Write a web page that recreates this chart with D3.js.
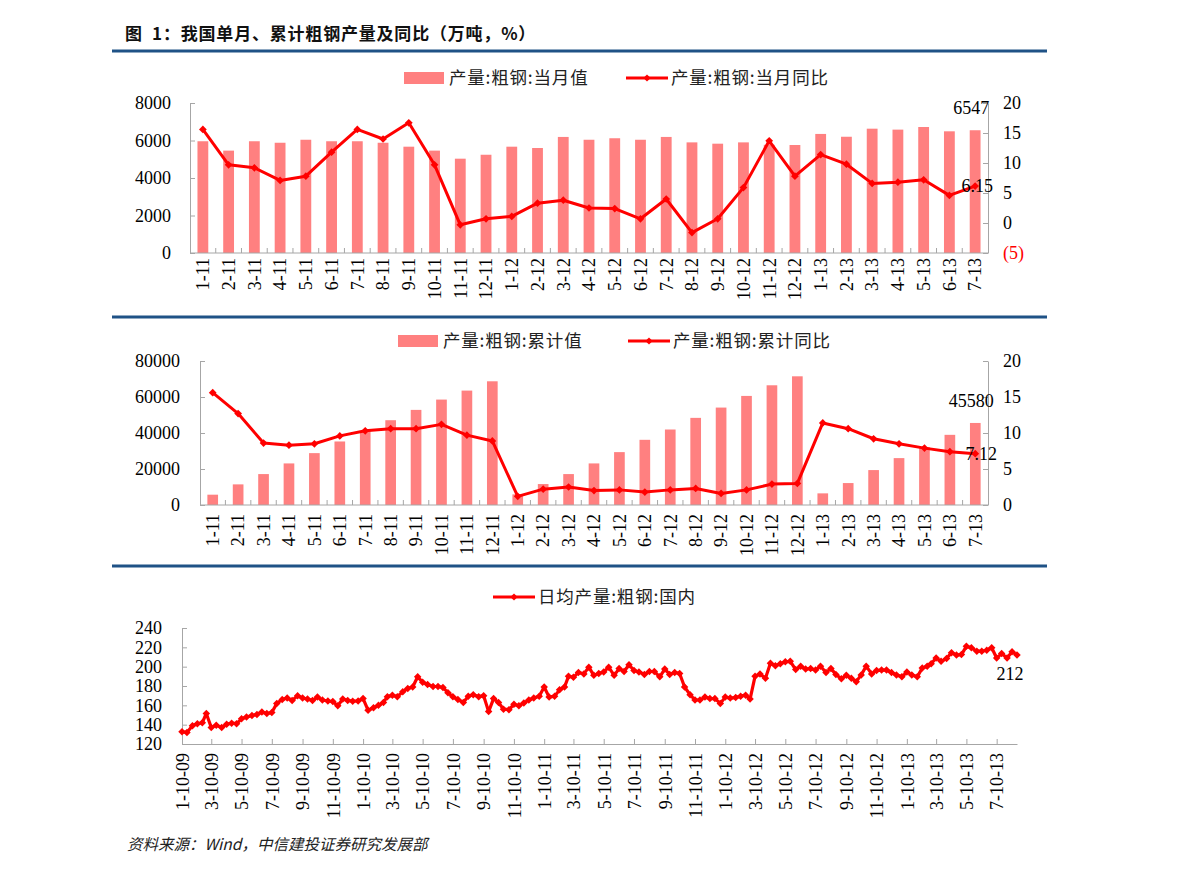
<html>
<head>
<meta charset="utf8">
<style>
body { margin: 0; background: #fff; }
text { font-family: "Liberation Serif", "Noto Sans CJK SC", serif; }
.cjk { font-family: "Noto Sans CJK SC", sans-serif; }
</style>
</head>
<body>
<div id="canvas"></div>
<script src="https://cdn.jsdelivr.net/npm/d3@7/dist/d3.min.js"></script>
<script>

// ---- data ----
const months = ["1-11","2-11","3-11","4-11","5-11","6-11","7-11","8-11","9-11","10-11","11-11","12-11",
  "1-12","2-12","3-12","4-12","5-12","6-12","7-12","8-12","9-12","10-12","11-12","12-12",
  "1-13","2-13","3-13","4-13","5-13","6-13","7-13"];

// 当月值 (万吨) / 当月同比 (%)
const monthVal = [5960,5460,5960,5880,6040,5960,5960,5880,5670,5460,5030,5240,
  5670,5600,6190,6040,6120,6040,6190,5900,5830,5900,5770,5760,
  6350,6200,6630,6580,6720,6490,6547];
const monthYoy = [15.6,9.7,9.2,7.1,7.8,11.8,15.6,14.0,16.7,9.7,-0.3,0.7,
  1.1,3.3,3.8,2.5,2.4,0.7,4.0,-1.6,0.7,5.9,13.7,7.8,
  11.4,9.8,6.6,6.8,7.2,4.6,6.15];

// 累计值 (万吨) / 累计同比 (%)
const cumVal = [5730,11460,17180,23100,28820,35290,41020,47110,52840,58570,63560,68730,
  5910,11640,17180,23100,29380,36210,41940,48410,54130,60600,66510,71500,
  6470,12190,19400,26050,32150,38980,45580];
const cumYoy = [15.6,12.7,8.6,8.3,8.5,9.6,10.3,10.6,10.6,11.2,9.7,8.9,
  1.2,2.2,2.5,2.0,2.1,1.8,2.1,2.3,1.6,2.1,2.9,3.0,
  11.4,10.6,9.2,8.5,7.9,7.4,7.12];

// 日均产量:粗钢:国内 (万吨/日), 每旬一值, 2009-01-10 起
const dailyVal = [
  132.7,132,139,141,142,151.6,137,139.5,137,140.5,141.5,141,
  146,148,149.5,150.5,153,151.5,152.5,162,166,167.5,165,170,
  167.5,166.5,165,168.5,165.5,164.5,164,159.5,166.5,165,164.3,164.5,
  167,155,157.5,160,163,169,170.5,169,174,177.5,179,189.5,
  184,181.5,179.5,179.5,178.5,173,169,166,163,169.5,171,169,
  170,153.5,167,163,156,155.5,161,159.5,162.5,165.5,167.5,169.5,
  179,168.5,169.5,176,179,190,189,194,192.5,199.5,191,193,
  194.5,199.5,191,198,195,202,196,194.5,192,195,195,189.5,
  197.5,192,194,193,179,171,165.5,165.5,168.5,167,167,162,
  168.5,167.5,168,169.5,170.5,166.5,190,192.5,188,203.5,201,203,
  205,205.5,197,200.5,197.5,198,196.5,200.5,194,198,192,187.5,
  191,188,184.5,191.5,200.5,192.5,196,196.5,196.5,194,191.5,189.5,
  194.5,191.5,189.5,198.5,200.5,203,209,205.5,208.5,214.5,212,212.5,
  221,219.5,216,216,217,219.5,209,213.5,209,215.5,212];
const dailyTicks = ["1-10-09","3-10-09","5-10-09","7-10-09","9-10-09","11-10-09",
  "1-10-10","3-10-10","5-10-10","7-10-10","9-10-10","11-10-10",
  "1-10-11","3-10-11","5-10-11","7-10-11","9-10-11","11-10-11",
  "1-10-12","3-10-12","5-10-12","7-10-12","9-10-12","11-10-12",
  "1-10-13","3-10-13","5-10-13","7-10-13"];

const barColor = "#ff8080";
const lineColor = "#ff0000";
const axisColor = "#a6a6a6";

// 旬日期: 10日, 20日, 月末
const dailyDates = [];
for (let k = 0; dailyDates.length < dailyVal.length; k++) {
  const yr = 2009 + Math.floor(k / 3 / 12);
  const mo = Math.floor(k / 3) % 12;
  const part = k % 3;
  if (part === 0) dailyDates.push(new Date(yr, mo, 10));
  else if (part === 1) dailyDates.push(new Date(yr, mo, 20));
  else dailyDates.push(new Date(yr, mo + 1, 0));
}

const svg = d3.select("#canvas").append("svg")
  .attr("width", 1191)
  .attr("height", 875)
  .attr("viewBox", "0 0 1191 875");

svg.append("rect").attr("width", 1191).attr("height", 875).attr("fill", "#fff");

// title + rules
svg.append("text").attr("class", "cjk")
  .attr("x", 125).attr("y", 34).attr("dy", "0.35em")
  .attr("font-size", "17px").attr("font-weight", "bold").attr("fill", "#111")
  .attr("letter-spacing", "0.8px")
  .attr("xml:space", "preserve")
  .text("图  1：我国单月、累计粗钢产量及同比（万吨，%）");

[51, 317, 566].forEach(y => {
  svg.append("line").attr("x1", 112).attr("x2", 1047).attr("y1", y).attr("y2", y)
    .attr("stroke", "#1f5286").attr("stroke-width", 3);
});

function diamond(size) {
  return d3.symbol(d3.symbolSquare, size)();
}

function styleAxis(g) {
  g.select(".domain").attr("stroke", axisColor);
  g.selectAll(".tick line").attr("stroke", axisColor);
  g.selectAll(".tick text").attr("font-size", "18px").attr("fill", "#000")
    .attr("font-family", "Liberation Serif");
}

function legend(items, y) {
  items.forEach(it => {
    if (it.type === "bar") {
      svg.append("rect").attr("x", it.x).attr("y", y - 6).attr("width", 40).attr("height", 12)
        .attr("fill", barColor);
    } else {
      svg.append("line").attr("x1", it.x).attr("x2", it.x + 42).attr("y1", y).attr("y2", y)
        .attr("stroke", lineColor).attr("stroke-width", 3);
      svg.append("path").attr("d", diamond(26))
        .attr("transform", `translate(${it.x + 21},${y}) rotate(45)`).attr("fill", lineColor);
    }
    svg.append("text").attr("class", "cjk")
      .attr("x", it.x + 45).attr("y", y).attr("dy", "0.35em")
      .attr("font-size", "17.5px").attr("fill", "#222").attr("letter-spacing", "0.8px")
      .text(it.name);
  });
}

// bar + line combo chart
function combo(opt) {
  const x = d3.scaleBand().domain(months).range([opt.left, opt.right]).paddingInner(0.58).paddingOuter(0.29);
  const y = d3.scaleLinear().domain(opt.yDomain).range([opt.bottom, opt.top]);
  const yR = d3.scaleLinear().domain(opt.rDomain).range([opt.bottom, opt.top]);

  svg.append("g").selectAll("rect").data(opt.bars).join("rect")
    .attr("x", (d, i) => x(months[i]))
    .attr("y", d => y(d))
    .attr("width", x.bandwidth())
    .attr("height", d => y(0) - y(d))
    .attr("fill", barColor);

  const gl = svg.append("g").attr("transform", `translate(${opt.left},0)`)
    .call(d3.axisLeft(y).ticks(4).tickSize(-5).tickSizeOuter(0).tickPadding(opt.lpad).tickFormat(d3.format("d")));
  styleAxis(gl);

  const gr = svg.append("g").attr("transform", `translate(${opt.right},0)`)
    .call(d3.axisRight(yR).ticks(5).tickSize(-5).tickSizeOuter(0).tickPadding(15)
      .tickFormat(d => d < 0 ? `(${-d})` : d));
  styleAxis(gr);
  gr.selectAll(".tick text").filter(d => d < 0).attr("fill", "#ff0000");

  // x axis: labels at band centres, small ticks at band boundaries
  const gx = svg.append("g").attr("transform", `translate(0,${opt.bottom})`)
    .call(d3.axisBottom(x).tickSize(0).tickSizeOuter(0));
  styleAxis(gx);
  gx.select(".domain").attr("d", `M${opt.left},0H${opt.right}`);
  gx.selectAll(".tick text")
    .attr("transform", "rotate(-90)")
    .attr("text-anchor", "end")
    .attr("x", -opt.xpad).attr("y", 0).attr("dy", "0.35em");
  gx.selectAll(".bnd").data(months.slice(1)).join("line")
    .attr("x1", d => x(d) - x.step() * x.paddingInner() / 2)
    .attr("x2", d => x(d) - x.step() * x.paddingInner() / 2)
    .attr("y1", 0).attr("y2", -5).attr("stroke", axisColor);

  const cx = (d, i) => x(months[i]) + x.bandwidth() / 2;
  svg.append("path").datum(opt.line)
    .attr("fill", "none").attr("stroke", lineColor).attr("stroke-width", 3)
    .attr("stroke-linejoin", "round")
    .attr("d", d3.line().x(cx).y(d => yR(d)));
  svg.append("g").selectAll("path").data(opt.line).join("path")
    .attr("d", diamond(30))
    .attr("transform", (d, i) => `translate(${cx(d, i)},${yR(d)}) rotate(45)`)
    .attr("fill", lineColor);

  const n = months.length - 1;
  svg.append("text").attr("x", cx(0, n) - 4).attr("y", y(opt.bars[n]) - 16)
    .attr("text-anchor", "middle").attr("font-size", "18px").text(opt.barLabel);
  svg.append("text").attr("x", cx(0, n) + opt.lineLabelDx).attr("y", yR(opt.line[n]))
    .attr("dy", "0.35em").attr("text-anchor", "middle").attr("font-size", "18px").text(opt.lineLabel);

  legend(opt.legend, opt.legendY);
}

combo({
  left: 190, right: 988, top: 103, bottom: 253,
  yDomain: [0, 8000], rDomain: [-5, 20], lpad: 19, xpad: 5,
  bars: monthVal, line: monthYoy,
  barLabel: "6547", lineLabel: "6.15", lineLabelDx: 2,
  legendY: 78,
  legend: [{type: "bar", x: 404, name: "产量:粗钢:当月值"}, {type: "line", x: 626, name: "产量:粗钢:当月同比"}]
});

combo({
  left: 200, right: 988, top: 361, bottom: 505,
  yDomain: [0, 80000], rDomain: [0, 20], lpad: 20, xpad: 9,
  bars: cumVal, line: cumYoy,
  barLabel: "45580", lineLabel: "7.12", lineLabelDx: 6,
  legendY: 341,
  legend: [{type: "bar", x: 398, name: "产量:粗钢:累计值"}, {type: "line", x: 628, name: "产量:粗钢:累计同比"}]
});

// ---- chart 3: 日均产量 ----
const parseTick = d3.timeParse("%m-%d-%y");
const x3 = d3.scaleTime().domain([dailyDates[0], dailyDates[dailyDates.length - 1]]).range([182, 1017]);
const y3 = d3.scaleLinear().domain([120, 240]).range([744, 628]);

const g3l = svg.append("g").attr("transform", "translate(182,0)")
  .call(d3.axisLeft(y3).tickValues(d3.range(120, 241, 20)).tickSize(-5).tickSizeOuter(0).tickPadding(20));
styleAxis(g3l);

const g3x = svg.append("g").attr("transform", "translate(0,744)")
  .call(d3.axisBottom(x3).tickValues(dailyTicks.map(parseTick)).tickSize(-5).tickSizeOuter(0)
    .tickFormat((d, i) => dailyTicks[i]));
styleAxis(g3x);
g3x.selectAll(".tick text")
  .attr("transform", "rotate(-90)")
  .attr("text-anchor", "end")
  .attr("x", -9).attr("y", 0).attr("dy", "0.35em");

svg.append("path").datum(dailyVal)
  .attr("fill", "none").attr("stroke", lineColor).attr("stroke-width", 3.2)
  .attr("stroke-linejoin", "round")
  .attr("d", d3.line().x((d, i) => x3(dailyDates[i])).y(d => y3(d)));
svg.append("g").selectAll("path").data(dailyVal).join("path")
  .attr("d", diamond(28))
  .attr("transform", (d, i) => `translate(${x3(dailyDates[i])},${y3(d)}) rotate(45)`)
  .attr("fill", lineColor);

svg.append("text").attr("x", x3(dailyDates[dailyDates.length - 1]) - 7).attr("y", y3(dailyVal[dailyVal.length - 1]) + 19)
  .attr("dy", "0.35em").attr("text-anchor", "middle").attr("font-size", "18px").text("212");

legend([{type: "line", x: 493, name: "日均产量:粗钢:国内"}], 597);

// source
svg.append("text").attr("class", "cjk")
  .attr("x", 127).attr("y", 845).attr("dy", "0.35em")
  .attr("font-size", "15.5px").attr("font-style", "italic").attr("fill", "#222")
  .text("资料来源：Wind，中信建投证券研究发展部");

</script>
</body>
</html>
